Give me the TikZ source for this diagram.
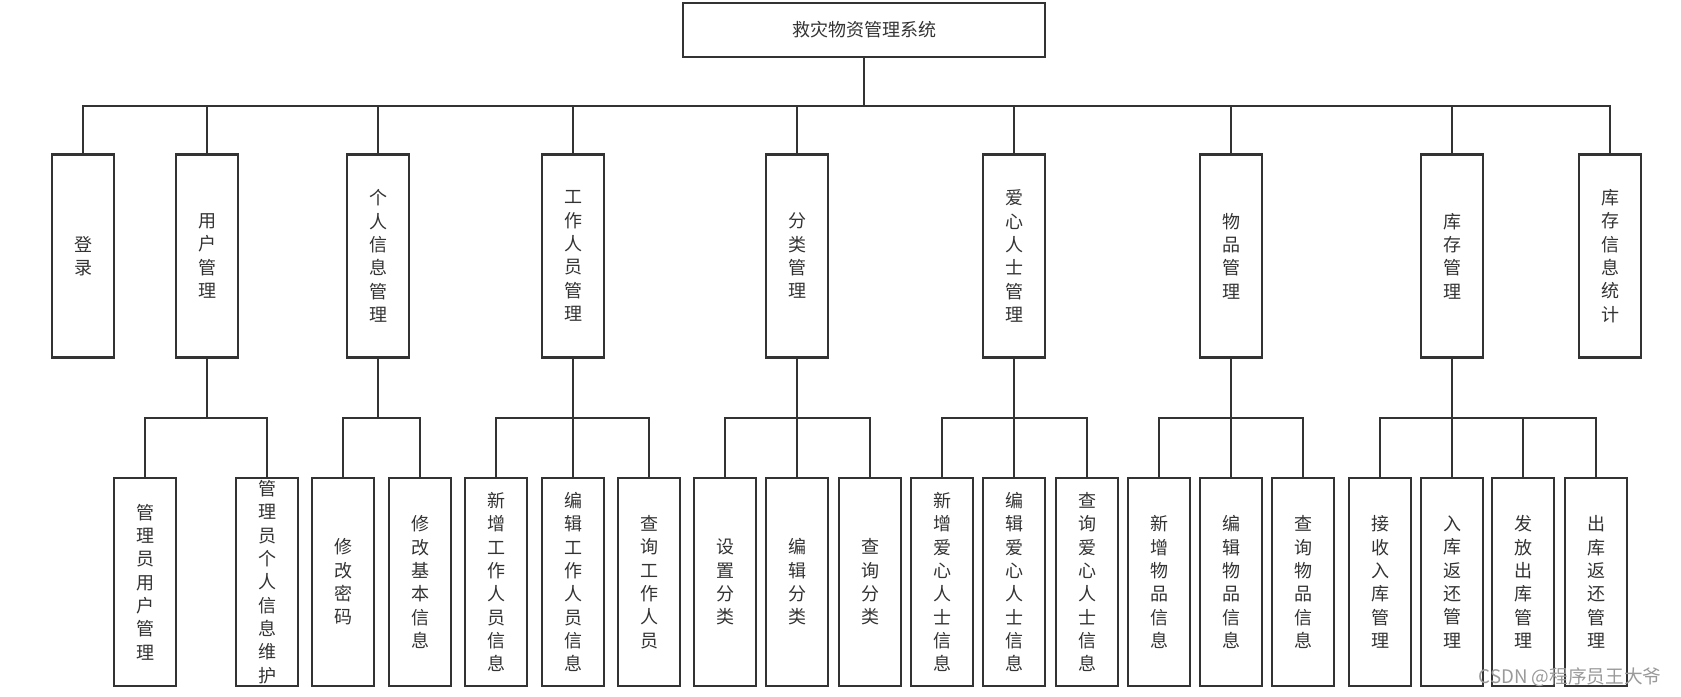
\documentclass[tikz,border=0pt]{standalone}
\usepackage{fontspec}
\newfontfamily\cjkfont{Noto Sans CJK SC}
\definecolor{linegray}{HTML}{333333}
\definecolor{markgray}{HTML}{9A9A9A}

\tikzset{
  sysbox/.style={draw=linegray, line width=1.8pt, text=linegray,
    font=\cjkfont\fontsize{13.5pt}{17.5pt}\selectfont,
    minimum width=271.5pt, minimum height=40.5pt, inner sep=0pt},
  modbox/.style={draw=linegray, line width=1.8pt, text=linegray, align=center,
    font=\cjkfont\fontsize{13.5pt}{17.5pt}\selectfont,
    minimum width=46.5pt, minimum height=152.25pt, inner sep=0pt},
  funcbox/.style={modbox, minimum height=156pt},
  tree/.style={draw=linegray, line width=1.7pt},
  watermark/.style={text=markgray, font=\cjkfont\fontsize{14pt}{16pt}\selectfont, inner sep=0pt}
}

\begin{document}
\begin{tikzpicture}[x=0.75pt, y=-0.75pt]
    \useasboundingbox (0,0) rectangle (1681,696);

    % system
    \node[sysbox] (sys) at (864,30) {救灾物资管理系统};

    % modules
    \node[modbox] (login) at (83,256) {登\\录};
    \node[modbox] (user) at (207,256) {用\\户\\管\\理};
    \node[modbox] (self) at (378,256) {个\\人\\信\\息\\管\\理};
    \node[modbox] (staff) at (573,256) {工\\作\\人\\员\\管\\理};
    \node[modbox] (cat) at (797,256) {分\\类\\管\\理};
    \node[modbox] (donor) at (1014,256) {爱\\心\\人\\士\\管\\理};
    \node[modbox] (goods) at (1231,256) {物\\品\\管\\理};
    \node[modbox] (stock) at (1452,256) {库\\存\\管\\理};
    \node[modbox] (stat) at (1610,256) {库\\存\\信\\息\\统\\计};

    % functions
    \node[funcbox] (user1) at (145,582) {管\\理\\员\\用\\户\\管\\理};
    \node[funcbox] (user2) at (267,582) {管\\理\\员\\个\\人\\信\\息\\维\\护};
    \node[funcbox] (self1) at (343,582) {修\\改\\密\\码};
    \node[funcbox] (self2) at (420,582) {修\\改\\基\\本\\信\\息};
    \node[funcbox] (staff1) at (496,582) {新\\增\\工\\作\\人\\员\\信\\息};
    \node[funcbox] (staff2) at (573,582) {编\\辑\\工\\作\\人\\员\\信\\息};
    \node[funcbox] (staff3) at (649,582) {查\\询\\工\\作\\人\\员};
    \node[funcbox] (cat1) at (725,582) {设\\置\\分\\类};
    \node[funcbox] (cat2) at (797,582) {编\\辑\\分\\类};
    \node[funcbox] (cat3) at (870,582) {查\\询\\分\\类};
    \node[funcbox] (donor1) at (942,582) {新\\增\\爱\\心\\人\\士\\信\\息};
    \node[funcbox] (donor2) at (1014,582) {编\\辑\\爱\\心\\人\\士\\信\\息};
    \node[funcbox] (donor3) at (1087,582) {查\\询\\爱\\心\\人\\士\\信\\息};
    \node[funcbox] (goods1) at (1159,582) {新\\增\\物\\品\\信\\息};
    \node[funcbox] (goods2) at (1231,582) {编\\辑\\物\\品\\信\\息};
    \node[funcbox] (goods3) at (1303,582) {查\\询\\物\\品\\信\\息};
    \node[funcbox] (stock1) at (1380,582) {接\\收\\入\\库\\管\\理};
    \node[funcbox] (stock2) at (1452,582) {入\\库\\返\\还\\管\\理};
    \node[funcbox] (stock3) at (1523,582) {发\\放\\出\\库\\管\\理};
    \node[funcbox] (stock4) at (1596,582) {出\\库\\返\\还\\管\\理};

    % branch points
    \coordinate (b0) at (864,106);
    \coordinate (buser) at (207,418);
    \coordinate (bself) at (378,418);
    \coordinate (bstaff) at (573,418);
    \coordinate (bcat) at (797,418);
    \coordinate (bdonor) at (1014,418);
    \coordinate (bgoods) at (1231,418);
    \coordinate (bstock) at (1452,418);

    \draw[tree] (sys) -- (b0);
    \foreach \m in {login, user, self, staff, cat, donor, goods, stock, stat}
        \draw[tree] (b0) -| (\m);

    \draw[tree] (user) -- (buser);
    \draw[tree] (user1) |- (buser) -| (user2);
    \draw[tree] (self) -- (bself);
    \draw[tree] (self1) |- (bself) -| (self2);
    \draw[tree] (staff) -- (staff2);
    \draw[tree] (staff1) |- (bstaff) -| (staff3);
    \draw[tree] (cat) -- (cat2);
    \draw[tree] (cat1) |- (bcat) -| (cat3);
    \draw[tree] (donor) -- (donor2);
    \draw[tree] (donor1) |- (bdonor) -| (donor3);
    \draw[tree] (goods) -- (goods2);
    \draw[tree] (goods1) |- (bgoods) -| (goods3);
    \draw[tree] (stock) -- (stock2);
    \draw[tree] (stock1) |- (bstock) -| (stock4);
    \draw[tree] (bstock) -| (stock3);

    \node[watermark] (mark) at (1570,677) {CSDN @程序员王大爷};
\end{tikzpicture}
\end{document}
